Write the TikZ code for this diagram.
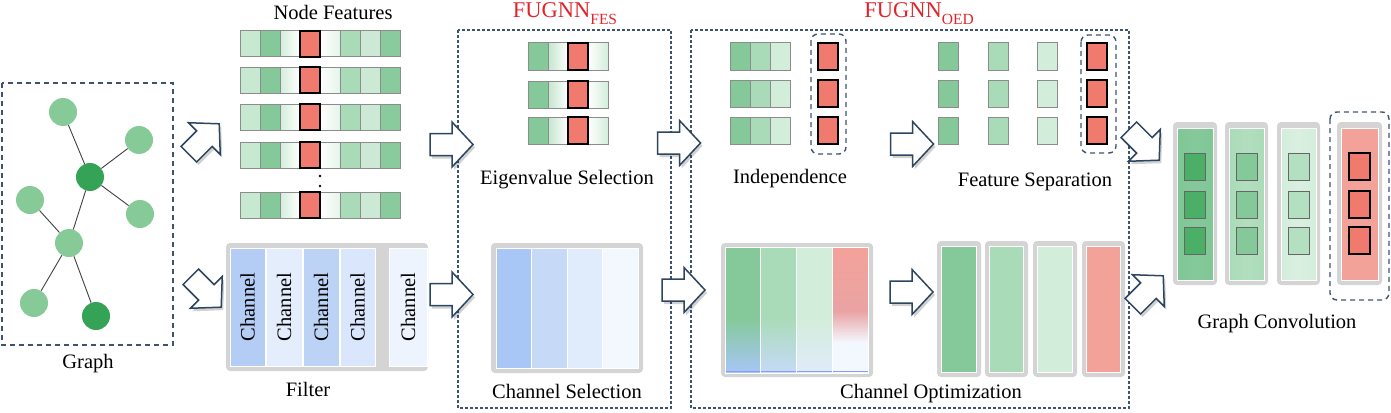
\documentclass[tikz,border=0pt]{standalone}
\usepackage{fontspec}
\setmainfont{Liberation Serif}
\definecolor{gnode}{HTML}{86CA98}
\definecolor{gdark}{HTML}{35A356}
\definecolor{gmed}{HTML}{85C99A}
\definecolor{glight}{HTML}{AADBB8}
\definecolor{gpale}{HTML}{D3EDDB}
\definecolor{gsq}{HTML}{4CAF68}
\definecolor{redc}{HTML}{F07A6E}
\definecolor{redl}{HTML}{F3A29A}
\definecolor{redg}{HTML}{E9A3A3}
\definecolor{frameg}{HTML}{D4D4D4}
\definecolor{dashc}{HTML}{3D5470}
\definecolor{arrc}{HTML}{2C4560}
\definecolor{titlered}{HTML}{E3232A}
\definecolor{bA}{HTML}{B3CDF5}
\definecolor{bB}{HTML}{E3EDFC}
\definecolor{bC}{HTML}{BCD3F5}
\definecolor{bD}{HTML}{DAE6FB}
\definecolor{bE}{HTML}{EEF4FD}
\definecolor{sA}{HTML}{A8C6F6}
\definecolor{sB}{HTML}{C6DAF8}
\definecolor{sC}{HTML}{E0EBFB}
\definecolor{sD}{HTML}{F3F7FE}
\newcommand{\lblfont}{\fontsize{20.5}{24}\selectfont}
\newcommand{\blockarr}[3]{%
  \begin{scope}[shift={(#1+2,#2+3)},rotate=#3]
    \fill[black,opacity=0.18] (-21.5,-11) -- (0.5,-11) -- (0.5,-22.5) -- (21.5,0) -- (0.5,22.5) -- (0.5,11) -- (-21.5,11) -- cycle;
  \end{scope}
  \begin{scope}[shift={(#1,#2)},rotate=#3]
    \draw[arrsty] (-21.5,-11) -- (0.5,-11) -- (0.5,-22.5) -- (21.5,0) -- (0.5,22.5) -- (0.5,11) -- (-21.5,11) -- cycle;
  \end{scope}}
\tikzset{
  gnodesty/.style={circle,fill=gnode,minimum size=28pt,inner sep=0pt},
  gdarksty/.style={circle,fill=gdark,minimum size=28pt,inner sep=0pt},
  edgesty/.style={draw=black!75,line width=0.9pt},
  cellsty/.style={draw=black!45,line width=1pt},
  redsty/.style={draw=black,fill=redc,line width=1.3pt},
  arrsty/.style={fill=white,draw=arrc,line width=1.5pt,line join=miter},
  dashbig/.style={draw=dashc,line width=1.1pt,dash pattern=on 3pt off 2pt},
  dashgraph/.style={draw=dashc,line width=1.3pt,dash pattern=on 5pt off 4pt},
  dashred/.style={draw=dashc,line width=1.4pt,dash pattern=on 5pt off 4pt,rounded corners=7pt},
  framesty/.style={fill=frameg,rounded corners=4pt},
  lbl/.style={font=\lblfont,anchor=base,inner sep=0pt},
  ttl/.style={font=\fontsize{22.5}{24}\selectfont,text=titlered,anchor=base,inner sep=0pt},
  inner/.style={draw=white,line width=1pt}
}
\begin{document}
\begin{tikzpicture}[x=1pt,y=-1pt]
\useasboundingbox (0,0) rectangle (1391,412);

% ---------------- Graph ----------------
\draw[dashgraph] (2,83) rectangle (173,345);
\node[gnodesty] (n1) at (63,112) {};
\node[gnodesty] (n2) at (139,140) {};
\node[gdarksty] (n3) at (90,177) {};
\node[gnodesty] (n4) at (30,200) {};
\node[gnodesty] (n5) at (140,214) {};
\node[gnodesty] (n6) at (69,243) {};
\node[gnodesty] (n7) at (34,303) {};
\node[gdarksty] (n8) at (96,316) {};
\draw[edgesty] (n1) -- (n3);
\draw[edgesty] (n2) -- (n3);
\draw[edgesty] (n3) -- (n5);
\draw[edgesty] (n3) -- (n6);
\draw[edgesty] (n4) -- (n6);
\draw[edgesty] (n6) -- (n7);
\draw[edgesty] (n6) -- (n8);
\node[lbl] (tgraph) at (88,368) {Graph};

% ---------------- Node features ----------------
\node[lbl] (tnf) at (333,20) {Node Features};
\foreach \yy in {31,67,104,142,192}{
  \draw[cellsty,fill=gpale!85!gmed] (240,\yy) rectangle ++(20,26);
  \draw[cellsty,fill=gmed] (260,\yy) rectangle ++(20,26);
  \draw[cellsty,left color=gpale,right color=white] (280,\yy) rectangle ++(20,26);
  \draw[cellsty,left color=white,right color=gpale!60] (320,\yy) rectangle ++(20,26);
  \draw[cellsty,fill=glight] (340,\yy) rectangle ++(20,26);
  \draw[cellsty,fill=gpale!90!gmed] (360,\yy) rectangle ++(20,26);
  \draw[cellsty,fill=gmed!90!glight] (380,\yy) rectangle ++(20,26);
  \draw[redsty] (300,\yy) rectangle ++(20,26);
}
\fill[black] (320,176) circle (1.3pt);
\fill[black] (320,186) circle (1.3pt);

% ---------------- Filter ----------------
\fill[framesty] (226,243) rectangle (428,371);
\draw[inner,fill=bA] (230,248) rectangle (265,366);
\draw[inner,fill=bB] (266,248) rectangle (302,366);
\draw[inner,fill=bC] (303,248) rectangle (339,366);
\draw[inner,fill=bD] (340,248) rectangle (375,366);
\draw[inner,fill=bE] (389,248) rectangle (427,366);
\node[font=\lblfont,rotate=90,inner sep=0pt] (c1) at (247.5,307) {Channel};
\node[font=\lblfont,rotate=90,inner sep=0pt] (c2) at (284,307) {Channel};
\node[font=\lblfont,rotate=90,inner sep=0pt] (c3) at (321,307) {Channel};
\node[font=\lblfont,rotate=90,inner sep=0pt] (c4) at (357.5,307) {Channel};
\node[font=\lblfont,rotate=90,inner sep=0pt] (c5) at (408,307) {Channel};
\node[lbl] (tfilter) at (308,396) {Filter};

% ---------------- FES box ----------------
\draw[dashbig] (458,30) rectangle (671,408);
\node[ttl] (tfes) at (565,17.5) {FUGNN\raisebox{-0.3em}{\fontsize{15.5}{15}\selectfont FES}};
\foreach \yy in {43,81,117}{
  \draw[cellsty,fill=gmed] (528,\yy) rectangle ++(20,27);
  \draw[cellsty,left color=gpale!80!gmed,right color=white] (548,\yy) rectangle ++(20,27);
  \draw[cellsty,left color=white,right color=gpale] (588,\yy) rectangle ++(20,27);
  \draw[redsty] (568,\yy) rectangle ++(20,27);
}
\node[lbl] (teig) at (567,184) {Eigenvalue Selection};
\fill[framesty] (491,243) rectangle (643,373);
\draw[inner,fill=sA] (496,248) rectangle (531.5,368);
\draw[inner,fill=sB] (531.5,248) rectangle (567,368);
\draw[inner,fill=sC] (567,248) rectangle (602.5,368);
\draw[inner,fill=sD] (602.5,248) rectangle (638,368);
\node[lbl] (tcs) at (567,398) {Channel Selection};

% ---------------- OED box ----------------
\draw[dashbig] (691,30) rectangle (1129,408);
\node[ttl] (toed) at (919,17.5) {FUGNN\raisebox{-0.3em}{\fontsize{15.5}{15}\selectfont OED}};
\foreach \yy in {43,80,117}{
  \draw[cellsty,fill=gmed] (730,\yy) rectangle ++(20,27);
  \draw[cellsty,fill=glight] (750,\yy) rectangle ++(20,27);
  \draw[cellsty,fill=gpale] (770,\yy) rectangle ++(20,27);
  \draw[redsty] (818,\yy) rectangle ++(20,27);
  \draw[cellsty,fill=gmed] (938,\yy) rectangle ++(20,27);
  \draw[cellsty,fill=glight] (988,\yy) rectangle ++(20,27);
  \draw[cellsty,fill=gpale] (1037,\yy) rectangle ++(20,27);
  \draw[redsty] (1087,\yy) rectangle ++(20,27);
}
\draw[dashred] (811,34) rectangle (846,154);
\draw[dashred] (1081,35) rectangle (1116,153);
\node[lbl] (tind) at (790,183) {Independence};
\node[lbl] (tfs) at (1035,186) {Feature Separation};

% channel optimisation (left)
\fill[framesty] (721,243) rectangle (873,377);
\fill[gmed] (725,247) rectangle (760.75,322);
\fill[top color=gmed,bottom color=sA] (725,318) rectangle (760.75,373);
\fill[glight] (760.75,247) rectangle (796.5,322);
\fill[top color=glight,bottom color=sB] (760.75,318) rectangle (796.5,373);
\fill[gpale] (796.5,247) rectangle (832.25,322);
\fill[top color=gpale,bottom color=sC] (796.5,318) rectangle (832.25,373);
\fill[sD] (832.25,335) rectangle (868,373);
\fill[top color=redl,bottom color=redg] (832.25,247) rectangle (868,314);
\fill[top color=redg,bottom color=sD] (832.25,311) rectangle (868,342);
\foreach \xa/\xb in {725/760.75,760.75/796.5,796.5/832.25,832.25/868}{
  \draw[inner] (\xa,247) rectangle (\xb,373);
  \draw[draw=sA!80!blue,line width=1.2pt] (\xa+0.5,371.5) -- (\xb-0.5,371.5);
}

% channel optimisation (right)
\foreach \xa/\xb/\cc in {937/981/gmed,985/1028/glight,1033/1077/gpale,1082/1125/redl}{
  \fill[framesty] (\xa,241) rectangle (\xb,377);
  \draw[inner,fill=\cc] (\xa+4.5,246) rectangle (\xb-4.5,372);
}
\node[lbl] (tco) at (931,398) {Channel Optimization};

% ---------------- Graph convolution ----------------
\foreach \xa/\xb/\ca/\cb in {1173/1217/gmed!90!gsq/gmed,1225/1268/glight/glight!90!white,1277/1320/gpale/gpale!85!white,1337/1382/redl/redl}{
  \fill[framesty] (\xa,122) rectangle (\xb,285);
  \fill[left color=\ca,right color=\ca,middle color=\cb] (\xa+4,128) rectangle (\xb-4,280);
  \draw[draw=white,line width=0.8pt] (\xa+4,128) rectangle (\xb-4,280);
}
\foreach \xc/\cq in {1195/gsq,1246.5/gmed,1298.5/gpale!60!gmed}{
  \foreach \yy in {153,191,227}{
    \draw[cellsty,draw=black!60,fill=\cq] (\xc-10.5,\yy) rectangle ++(21,27);
  }
}
\foreach \yy in {153,191,227}{
  \draw[redsty] (1349,\yy) rectangle ++(21,27);
}
\draw[dashred] (1330,112) rectangle (1389,300);
\node[lbl] (tgc) at (1277,328) {Graph Convolution};

% ---------------- Arrows ----------------
\blockarr{204}{139}{45}
\blockarr{206}{292}{-45}
\blockarr{451.5}{144.5}{0}
\blockarr{451.5}{294.5}{0}
\blockarr{679}{143}{0}
\blockarr{683.5}{290}{0}
\blockarr{912}{144}{0}
\blockarr{911.5}{292}{0}
\blockarr{1144}{145}{-45}
\blockarr{1148}{291}{45}
\end{tikzpicture}
\end{document}
